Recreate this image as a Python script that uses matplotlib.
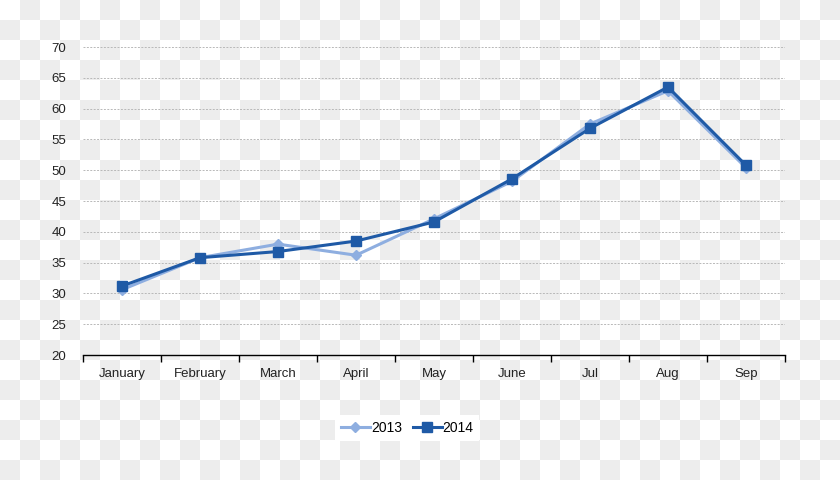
import numpy as np
import matplotlib
matplotlib.use("Agg")
import matplotlib.pyplot as plt

# data
months = ["January", "February", "March", "April", "May", "June", "Jul", "Aug", "Sep"]
vals_2013 = [30.6, 35.8, 38.0, 36.2, 42.1, 48.2, 57.5, 62.9, 50.4]
vals_2014 = [31.2, 35.8, 36.8, 38.5, 41.6, 48.6, 56.8, 63.5, 50.8]
yticks = [20, 25, 30, 35, 40, 45, 50, 55, 60, 65, 70]

plt.rcParams['font.family'] = ['Liberation Sans', 'DejaVu Sans']

fig = plt.figure(figsize=(8.4, 4.8), dpi=100)

# checkerboard background (transparent png look)
cells = (np.indices((24, 42)).sum(axis=0) % 2).astype(float)
board = np.kron(cells, np.ones((20, 20)))
rgb = np.where(board[..., None] > 0, 0.93, 1.0) * np.ones(3)
fig.figimage(rgb, xo=0, yo=0, origin='upper', zorder=-10)

ax = fig.add_axes([0.0988, 0.2604, 0.8357, 0.6416])
ax.set_facecolor('none')

x = np.arange(len(months))
ax.plot(x, vals_2013, color='#8eaee0', lw=2.2, marker='D', ms=5, label='2013', zorder=3)
ax.plot(x, vals_2014, color='#1f5aa6', lw=2.2, marker='s', ms=7, label='2014', zorder=4)

ax.set_xlim(-0.5, len(months) - 0.5)
ax.set_ylim(20, 70)
ax.set_yticks(yticks)
ax.set_xticks(x)
ax.set_xticklabels(months)
ax.set_xticks(np.arange(-0.5, len(months)), minor=True)
ax.tick_params(axis='x', which='major', length=0, pad=9, labelsize=9.5, colors='#222222')
ax.tick_params(axis='x', which='minor', length=5, width=1, color='black', direction='out')
ax.tick_params(axis='y', length=0, pad=12, labelsize=9.5, labelcolor='#222222')

ax.grid(axis='y', color='#b8b8b8', ls=(0, (2, 1.5)), lw=0.7)
ax.set_axisbelow(True)
for s in ['left', 'right', 'top']:
    ax.spines[s].set_visible(False)
ax.spines['bottom'].set_color('black')
ax.spines['bottom'].set_linewidth(1)

leg = ax.legend(loc='center', bbox_to_anchor=(0.462, -0.237), ncol=2, frameon=True,
                fontsize=10, handlelength=2.1, handletextpad=0.05, columnspacing=0.8,
                fancybox=False, borderpad=0.4, borderaxespad=0)
leg.get_frame().set_facecolor('white')
leg.get_frame().set_edgecolor('none')
leg.get_frame().set_alpha(1)

fig.savefig('out.png', dpi=100)
